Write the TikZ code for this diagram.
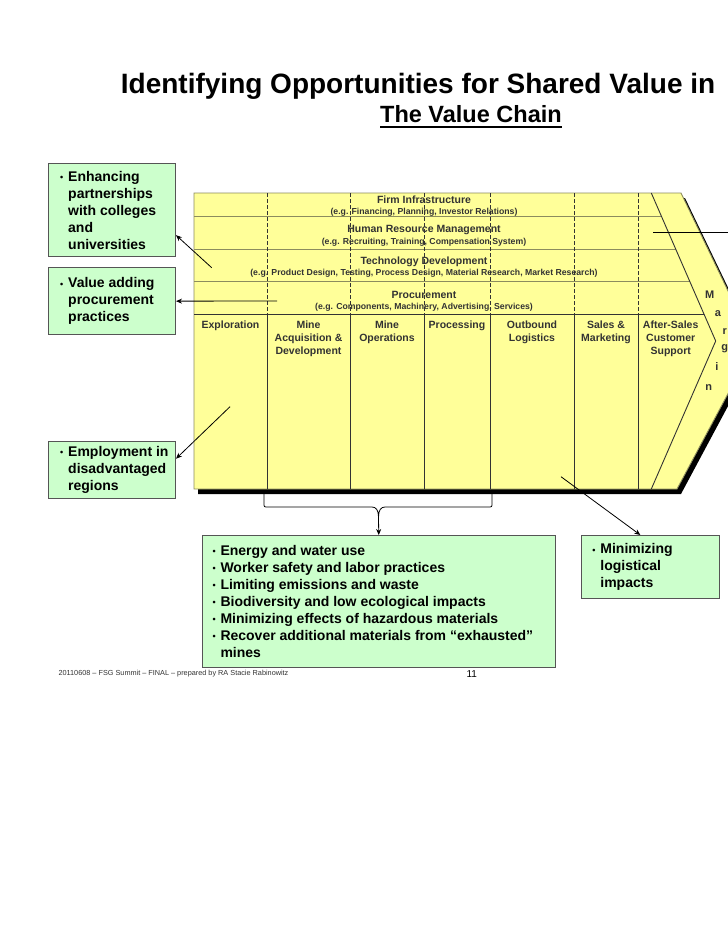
\documentclass[tikz,border=0pt]{standalone}
\usepackage{fontspec}
\setmainfont{Liberation Sans}
\usetikzlibrary{arrows.meta}

\definecolor{chainyellow}{HTML}{FFFF99}
\definecolor{chainline}{HTML}{8C8C5E}
\definecolor{chaintext}{HTML}{333333}
\definecolor{notegreen}{HTML}{CCFFCC}
\definecolor{notedraw}{HTML}{555555}

\newcommand{\bl}{\makebox[8pt][l]{\raisebox{0.5pt}{\fontsize{9}{9}\selectfont\textbullet}}}
\newcommand{\ind}{\makebox[8pt]{}}

\begin{document}
\begin{tikzpicture}[x=1pt, y=-1pt,
    note/.style={draw=notedraw, fill=notegreen, line width=1pt, inner sep=0pt, anchor=north west},
    notetext/.style={anchor=west, align=left, inner sep=0pt, font=\fontsize{14}{17}\selectfont\bfseries},
    suphead/.style={anchor=base, inner sep=0pt, text=chaintext, font=\fontsize{10.5}{12}\selectfont\bfseries},
    supsub/.style={anchor=base, inner sep=0pt, text=chaintext, font=\fontsize{8.7}{10}\selectfont\bfseries},
    primlbl/.style={anchor=north, align=center, inner sep=0pt, text=chaintext, font=\fontsize{10.5}{13}\selectfont\bfseries},
    mletter/.style={inner sep=0pt, text=chaintext, font=\fontsize{11}{11}\selectfont\bfseries},
    rowline/.style={draw=chainline, line width=0.9pt},
    dashdiv/.style={draw=chaintext, line width=0.9pt, dash pattern=on 3.5pt off 2.5pt},
    divider/.style={draw=chaintext, line width=0.9pt},
    arr/.style={-{Stealth[length=6pt, width=5pt]}, line width=0.8pt},
    bracket/.style={line width=0.8pt}]
    \useasboundingbox (0,0) rectangle (728,943);
    \fill[white] (0,0) rectangle (728,943);
    \clip (0,0) rectangle (728,943);

    % title
    \node[anchor=base west, inner sep=0pt, font=\fontsize{28}{30}\selectfont\bfseries] (ttl) at (120.7,93.3)
    {Identifying Opportunities for Shared Value in};
    \node[anchor=base west, inner sep=0pt, font=\fontsize{23.5}{26}\selectfont\bfseries] (vc) at (380,122.7)
    {The Value Chain};
    \draw[line width=1.8pt] ([yshift=-4pt]vc.base west)
    -- ([yshift=-4pt]vc.base east);

    % value chain
    \fill[black] (198,198) -- (685,198) -- (758,350) -- (681,494) -- (198,494) -- cycle;
    \filldraw[fill=chainyellow, draw=chainline, line width=0.9pt]
    (194,193) -- (681,193) -- (754,345) -- (677,489) -- (194,489) -- cycle;

    \draw[rowline] (194,216.7) -- (661.6,216.7);
    \draw[rowline] (194,249) -- (675.7,249);
    \draw[rowline] (194,281.7) -- (689.9,281.7);
    \draw[line width=1.6pt, draw=chaintext] (194,314.5) -- (704.2,314.5);
    \draw[divider] (651.3,193) -- (715.7,341) -- (651.3,489);

    \foreach \x in {267, 350, 424, 490, 574, 638} {
      \draw[dashdiv] (\x,193) -- (\x,314.5);
      \draw[divider] (\x,314.5) -- (\x,489);
    }

    \node[suphead] (firm) at (424,203.8) {Firm Infrastructure};
    \node[supsub] (firmeg) at (424,214.7) {(e.g. Financing, Planning, Investor Relations)};
    \node[suphead] (hrm) at (424,232.8) {Human Resource Management};
    \node[supsub] (hrmeg) at (424,244.7) {(e.g. Recruiting, Training, Compensation System)};
    \node[suphead] (tech) at (424,264.8) {Technology Development};
    \node[supsub] (techeg) at (424,275.7) {(e.g. Product Design, Testing, Process Design, Material Research, Market Research)};
    \node[suphead] (proc) at (424,298.1) {Procurement};
    \node[supsub] (proceg) at (424,309.7) {(e.g. Components, Machinery, Advertising, Services)};

    \node[primlbl] (expl) at (230.5,320.5) {Exploration};
    \node[primlbl] (macq) at (308.5,320.5) {Mine\\Acquisition \&\\Development};
    \node[primlbl] (mops) at (387,320.5) {Mine\\Operations};
    \node[primlbl] (prcs) at (457,320.5) {Processing};
    \node[primlbl] (outb) at (532,320.5) {Outbound\\Logistics};
    \node[primlbl] (sales) at (606,320.5) {Sales \&\\Marketing};
    \node[primlbl] (after) at (670.7,320.5) {After-Sales\\Customer\\Support};

    \node[mletter] (m1) at (709.7,295) {M};
    \node[mletter] (m2) at (718,313.3) {a};
    \node[mletter] (m3) at (724.7,331.7) {r};
    \node[mletter] (m4) at (724.7,349) {g};
    \node[mletter] (m5) at (717,367) {i};
    \node[mletter] (m6) at (708.7,387.3) {n};

    % notes
    \node[note, minimum width=127pt, minimum height=92.7pt] (enh) at (48,163.3) {};
    \node[notetext] (enhtxt) at ([xshift=12pt]enh.west)
    {\bl Enhancing\\\ind partnerships\\\ind with colleges\\\ind and\\\ind universities};

    \node[note, minimum width=127pt, minimum height=66.7pt] (vap) at (48,267.3) {};
    \node[notetext] (vaptxt) at ([xshift=12pt]vap.west)
    {\bl Value adding\\\ind procurement\\\ind practices};

    \node[note, minimum width=127pt, minimum height=57pt] (emp) at (48,440.7) {};
    \node[notetext] (emptxt) at ([xshift=12pt]emp.west)
    {\bl Employment in\\\ind disadvantaged\\\ind regions};

    \node[note, minimum width=352.5pt, minimum height=131.7pt] (env) at (202,535) {};
    \node[notetext] (envtxt) at ([xshift=10.3pt]env.west)
    {\bl Energy and water use\\\bl Worker safety and labor practices\\\bl Limiting emissions and waste\\
     \bl Biodiversity and low ecological impacts\\\bl Minimizing effects of hazardous materials\\
     \bl Recover additional materials from “exhausted”\\\ind mines};

    \node[note, minimum width=137.3pt, minimum height=63.3pt] (log) at (581.2,535) {};
    \node[notetext] (logtxt) at ([xshift=11pt]log.west)
    {\bl Minimizing\\\ind logistical\\\ind impacts};

    % links
    \coordinate (techfrom) at (211.7,267.7);
    \coordinate (procfrom) at (277,301);
    \coordinate (explfrom) at (230,406.7);
    \coordinate (outbfrom) at (561,476.7);
    \coordinate (hrmfrom) at (653,232.3);
    \coordinate (hrmoff) at (740,232.3);
    \coordinate (brl) at (264,494);
    \coordinate (brr) at (492,494);
    \coordinate (brtip) at (378.5,517);

    \draw[arr] (techfrom)
    -- ([yshift=-25pt]enh.east);
    \draw[arr] (procfrom)
    -- (vap.east);
    \draw[arr] (explfrom)
    -- ([yshift=11pt]emp.east);
    \draw[arr] (outbfrom)
    -- ([xshift=-10pt]log.north);
    \draw[line width=0.8pt] (hrmfrom)
    -- (hrmoff);

    \draw[bracket] (brl)
    -- (264,503) .. controls (264,507) and (264,507) .. (268,507)
    -- (372,507) .. controls (376,507) and (378.5,510) .. (brtip)
    .. controls (378.5,510) and (381,507) .. (385,507)
    -- (488,507) .. controls (492,507) and (492,507) .. (492,503)
    -- (brr);
    \draw[arr] (brtip)
    -- (env.north);

    % footer
    \node[anchor=base west, inner sep=0pt, text=chaintext, font=\fontsize{7.3}{8}\selectfont] (foot) at (58.3,675.5)
    {20110608 – FSG Summit – FINAL – prepared by RA Stacie Rabinowitz};
    \node[anchor=base, inner sep=0pt, font=\fontsize{10}{11}\selectfont] (pg) at (471.7,677.5) {11};
  \end{tikzpicture}
\end{document}
